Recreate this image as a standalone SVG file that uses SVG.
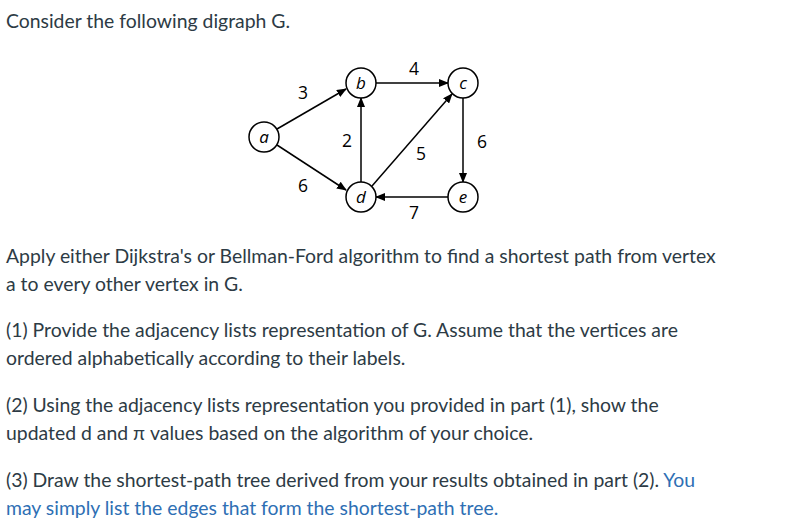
<svg xmlns="http://www.w3.org/2000/svg" width="799" height="528" viewBox="0 0 799 528">
<style>
.t{font-family:Lato,"Liberation Sans",sans-serif;font-size:19.4px;fill:#2d3b45}
.b{fill:#2e6fb4}
.n circle{fill:#fff;stroke:#000;stroke-width:1.5}
.n text{font-family:"Open Sans","DejaVu Sans",sans-serif;font-style:italic;font-size:17px;text-anchor:middle}
.w{font-family:"Open Sans","DejaVu Sans",sans-serif;font-size:17.5px;text-anchor:middle}
.e line{stroke:#000;stroke-width:1.5;marker-end:url(#ar)}
</style>
<defs><marker id="ar" markerWidth="10" markerHeight="8" refX="9" refY="4" orient="auto" markerUnits="userSpaceOnUse"><path d="M0,0 L10,4 L0,8 Z"/></marker></defs>
<rect width="799" height="528" fill="#fff"/>
<text class="t" x="6" y="28">Consider the following digraph G.</text>
<g class="e">
<line x1="277" y1="129" x2="346" y2="89"/>
<line x1="277" y1="145" x2="346" y2="190"/>
<line x1="376" y1="83" x2="448" y2="83"/>
<line x1="361" y1="182" x2="361" y2="98"/>
<line x1="372" y1="186" x2="452" y2="94"/>
<line x1="463" y1="98" x2="463" y2="182"/>
<line x1="448" y1="197" x2="376" y2="197"/>
</g>
<g id="wts">
<text class="w" x="303" y="99">3</text>
<text class="w" x="303" y="192">6</text>
<text class="w" x="414" y="75">4</text>
<text class="w" x="347" y="147">2</text>
<text class="w" x="421" y="160">5</text>
<text class="w" x="482" y="148">6</text>
<text class="w" x="414" y="219">7</text>
</g>
<g id="a" class="n"><circle cx="264" cy="137" r="15"/><text x="264" y="143">a</text></g>
<g id="b" class="n"><circle cx="361" cy="83" r="15"/><text x="361" y="89">b</text></g>
<g id="c" class="n"><circle cx="463" cy="83" r="15"/><text x="463" y="89">c</text></g>
<g id="d" class="n"><circle cx="361" cy="197" r="15"/><text x="361" y="203">d</text></g>
<g id="e" class="n"><circle cx="463" cy="197" r="15"/><text x="463" y="203">e</text></g>
<text class="t" x="6" y="263">Apply either Dijkstra's or Bellman-Ford algorithm to find a shortest path from vertex</text>
<text class="t" x="6" y="291">a to every other vertex in G.</text>
<text class="t" x="6" y="337">(1) Provide the adjacency lists representation of G. Assume that the vertices are</text>
<text class="t" x="6" y="365">ordered alphabetically according to their labels.</text>
<text class="t" x="6" y="412">(2) Using the adjacency lists representation you provided in part (1), show the</text>
<text class="t" x="6" y="440">updated d and π values based on the algorithm of your choice.</text>
<text class="t" x="6" y="487">(3) Draw the shortest-path tree derived from your results obtained in part (2). <tspan class="b">You</tspan></text>
<text class="t b" x="6" y="515">may simply list the edges that form the shortest-path tree.</text>
</svg>
